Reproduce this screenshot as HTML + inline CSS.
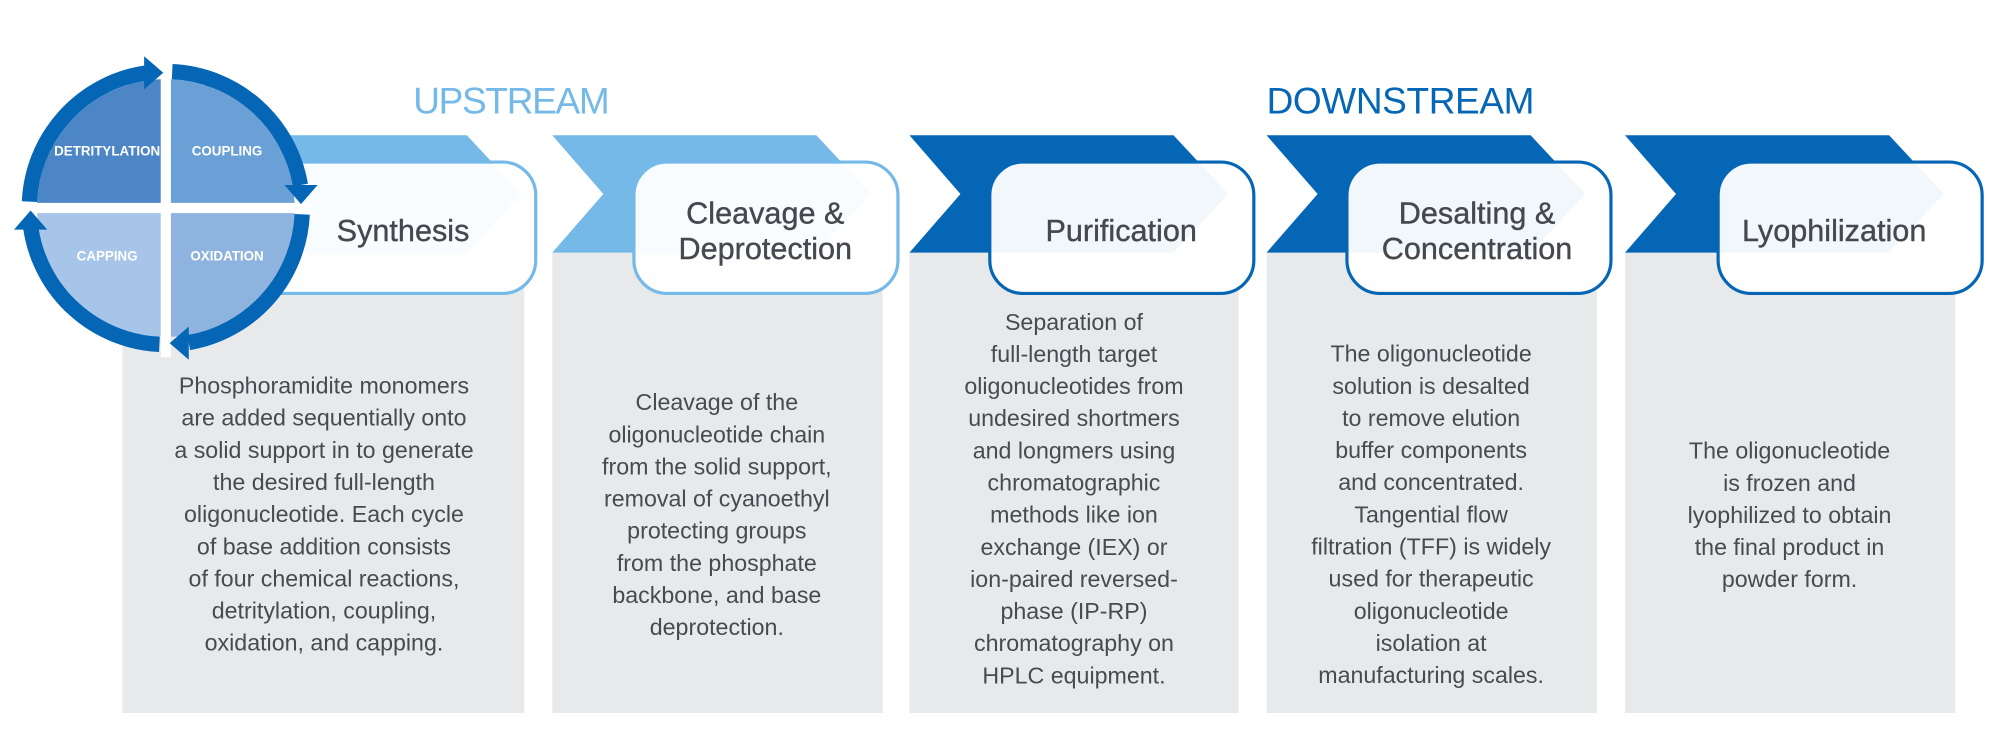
<!DOCTYPE html>
<html><head><meta charset="utf-8"><style>
html,body{margin:0;padding:0;background:#fff;}
svg{display:block;}
text{font-family:"Liberation Sans",sans-serif;}
.b{font-size:18.2px;fill:#474b51;text-anchor:middle;}
.t{font-size:24px;fill:#45494f;text-anchor:middle;stroke:#45494f;stroke-width:0.3;}
.q{font-size:10.5px;fill:#fff;font-weight:bold;text-anchor:middle;}
</style></head><body>
<svg width="2000" height="731" viewBox="0 0 1568 573" xmlns="http://www.w3.org/2000/svg">
<rect width="1568" height="573" fill="#fff"/>
<rect x="96" y="198" width="315" height="361" fill="#e8e9eb"/>
<rect x="433" y="198" width="259" height="361" fill="#e8e9eb"/>
<rect x="713" y="198" width="258" height="361" fill="#e8e9eb"/>
<rect x="993" y="198" width="259" height="361" fill="#e8e9eb"/>
<rect x="1274" y="198" width="259" height="361" fill="#e8e9eb"/>
<polygon points="180,106 366,106 409,152 366,198 180,198" fill="#74b9e7"/>
<polygon points="433,106 640,106 683,152 640,198 433,198 473,152" fill="#74b9e7"/>
<polygon points="713,106 920,106 963,152 920,198 713,198 753,152" fill="#0466b5"/>
<polygon points="993,106 1200,106 1243,152 1200,198 993,198 1033,152" fill="#0466b5"/>
<polygon points="1274,106 1481,106 1524,152 1481,198 1274,198 1314,152" fill="#0466b5"/>
<rect x="180" y="127" width="240" height="103" rx="26" fill="rgba(255,255,255,0.95)" stroke="#74b9e7" stroke-width="2.5"/>
<rect x="497" y="127" width="207" height="103" rx="26" fill="rgba(255,255,255,0.95)" stroke="#74b9e7" stroke-width="2.5"/>
<rect x="776" y="127" width="207" height="103" rx="26" fill="rgba(255,255,255,0.95)" stroke="#0466b5" stroke-width="2.5"/>
<rect x="1056" y="127" width="207" height="103" rx="26" fill="rgba(255,255,255,0.95)" stroke="#0466b5" stroke-width="2.5"/>
<rect x="1347" y="127" width="207" height="103" rx="26" fill="rgba(255,255,255,0.95)" stroke="#0466b5" stroke-width="2.5"/>
<text class="t" x="316" y="189">Synthesis</text>
<text class="t" x="600" y="175">Cleavage &amp;</text>
<text class="t" x="600" y="203">Deprotection</text>
<text class="t" x="879" y="189">Purification</text>
<text class="t" x="1158" y="175">Desalting &amp;</text>
<text class="t" x="1158" y="203">Concentration</text>
<text class="t" x="1438" y="189">Lyophilization</text>
<text x="324" y="89" font-size="29" fill="#74b9e7" textLength="154">UPSTREAM</text>
<text x="993" y="89" font-size="29" fill="#0466b5" textLength="210">DOWNSTREAM</text>
<path d="M130,163 L130,62 A101,101 0 0 0 29,163 Z" fill="#4d86c7"/>
<path d="M130,163 L130,62 A101,101 0 0 1 231,163 Z" fill="#6aa0d6"/>
<path d="M130,163 L29,163 A101,101 0 0 0 130,264 Z" fill="#a7c5e8"/>
<path d="M130,163 L231,163 A101,101 0 0 1 130,264 Z" fill="#8fb3df"/>
<line x1="130" y1="50" x2="130" y2="280" stroke="#fff" stroke-width="8"/>
<line x1="15" y1="163" x2="245" y2="163" stroke="#fff" stroke-width="8"/>
<g fill="none" stroke="#0466b5" stroke-width="12">
<path d="M23.1,158 A107,107 0 0 1 114,57.2"/>
<path d="M135,56.1 A107,107 0 0 1 235.5,145"/>
<path d="M236.9,168 A107,107 0 0 1 148,268.5"/>
<path d="M125,269.9 A107,107 0 0 1 24.2,179"/>
</g>
<g fill="#0466b5">
<polygon points="128,57 113,44 113,70"/>
<polygon points="236,160 223,145 249,145"/>
<polygon points="133,269 148,256 148,282"/>
<polygon points="24,165 11,180 37,180"/>
</g>
<text class="q" x="84" y="122">DETRITYLATION</text>
<text class="q" x="178" y="122">COUPLING</text>
<text class="q" x="84" y="204">CAPPING</text>
<text class="q" x="178" y="204">OXIDATION</text>
<g>
<text class="b" x="254" y="308.5">Phosphoramidite monomers</text>
<text class="b" x="254" y="333.7">are added sequentially onto</text>
<text class="b" x="254" y="358.9">a solid support in to generate</text>
<text class="b" x="254" y="384.1">the desired full-length</text>
<text class="b" x="254" y="409.3">oligonucleotide. Each cycle</text>
<text class="b" x="254" y="434.5">of base addition consists</text>
<text class="b" x="254" y="459.7">of four chemical reactions,</text>
<text class="b" x="254" y="484.9">detritylation, coupling,</text>
<text class="b" x="254" y="510.1">oxidation, and capping.</text>
</g>
<g>
<text class="b" x="562" y="321.5">Cleavage of the</text>
<text class="b" x="562" y="346.7">oligonucleotide chain</text>
<text class="b" x="562" y="371.9">from the solid support,</text>
<text class="b" x="562" y="397.1">removal of cyanoethyl</text>
<text class="b" x="562" y="422.3">protecting groups</text>
<text class="b" x="562" y="447.5">from the phosphate</text>
<text class="b" x="562" y="472.7">backbone, and base</text>
<text class="b" x="562" y="497.9">deprotection.</text>
</g>
<g>
<text class="b" x="842" y="258.5">Separation of</text>
<text class="b" x="842" y="283.7">full-length target</text>
<text class="b" x="842" y="308.9">oligonucleotides from</text>
<text class="b" x="842" y="334.1">undesired shortmers</text>
<text class="b" x="842" y="359.3">and longmers using</text>
<text class="b" x="842" y="384.5">chromatographic</text>
<text class="b" x="842" y="409.7">methods like ion</text>
<text class="b" x="842" y="434.9">exchange (IEX) or</text>
<text class="b" x="842" y="460.1">ion-paired reversed-</text>
<text class="b" x="842" y="485.3">phase (IP-RP)</text>
<text class="b" x="842" y="510.5">chromatography on</text>
<text class="b" x="842" y="535.7">HPLC equipment.</text>
</g>
<g>
<text class="b" x="1122" y="283.5">The oligonucleotide</text>
<text class="b" x="1122" y="308.7">solution is desalted</text>
<text class="b" x="1122" y="333.9">to remove elution</text>
<text class="b" x="1122" y="359.1">buffer components</text>
<text class="b" x="1122" y="384.3">and concentrated.</text>
<text class="b" x="1122" y="409.5">Tangential flow</text>
<text class="b" x="1122" y="434.7">filtration (TFF) is widely</text>
<text class="b" x="1122" y="459.9">used for therapeutic</text>
<text class="b" x="1122" y="485.1">oligonucleotide</text>
<text class="b" x="1122" y="510.3">isolation at</text>
<text class="b" x="1122" y="535.5">manufacturing scales.</text>
</g>
<g>
<text class="b" x="1403" y="359.5">The oligonucleotide</text>
<text class="b" x="1403" y="384.7">is frozen and</text>
<text class="b" x="1403" y="409.9">lyophilized to obtain</text>
<text class="b" x="1403" y="435.1">the final product in</text>
<text class="b" x="1403" y="460.3">powder form.</text>
</g>
</svg>
</body></html>
